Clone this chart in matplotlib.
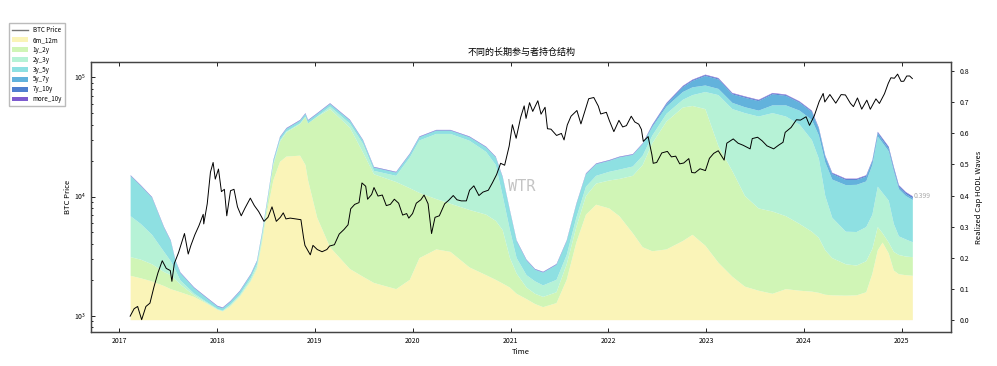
import numpy as np
import pandas as pd
import matplotlib
matplotlib.use("Agg")
import matplotlib.pyplot as plt
import matplotlib.dates as mdates
from matplotlib.lines import Line2D
from matplotlib.patches import Patch

plt.rcParams["font.family"] = ["Noto Sans CJK SC", "DejaVu Sans"]

# --- BTC price (USD) ---
price_dates = [
    "2017-02-10", "2017-02-25", "2017-03-10", "2017-03-25", "2017-04-10", "2017-04-25", "2017-05-10", "2017-05-25",
    "2017-06-10", "2017-06-25", "2017-07-10", "2017-07-16", "2017-07-25", "2017-08-10", "2017-08-25", "2017-09-01",
    "2017-09-15", "2017-09-25", "2017-10-10", "2017-10-25", "2017-11-10", "2017-11-12", "2017-11-25", "2017-12-07",
    "2017-12-17", "2017-12-25", "2018-01-06", "2018-01-17", "2018-01-28", "2018-02-06", "2018-02-20", "2018-03-05",
    "2018-03-18", "2018-04-01", "2018-04-15", "2018-05-05", "2018-05-20", "2018-06-05", "2018-06-25", "2018-07-10",
    "2018-07-25", "2018-08-10", "2018-08-25", "2018-09-05", "2018-09-15", "2018-10-01", "2018-10-20", "2018-11-10",
    "2018-11-20", "2018-11-25", "2018-12-15", "2018-12-25", "2019-01-10", "2019-01-28", "2019-02-15", "2019-02-25",
    "2019-03-15", "2019-04-02", "2019-04-20", "2019-05-05", "2019-05-15", "2019-05-30", "2019-06-15", "2019-06-26",
    "2019-07-10", "2019-07-17", "2019-08-01", "2019-08-10", "2019-08-25", "2019-09-10", "2019-09-25", "2019-10-10",
    "2019-10-25", "2019-11-10", "2019-11-25", "2019-12-10", "2019-12-18", "2020-01-01", "2020-01-15", "2020-02-01",
    "2020-02-13", "2020-02-28", "2020-03-12", "2020-03-25", "2020-04-10", "2020-04-30", "2020-05-15", "2020-06-01",
    "2020-06-15", "2020-07-01", "2020-07-20", "2020-08-01", "2020-08-17", "2020-09-05", "2020-09-20", "2020-10-10",
    "2020-10-25", "2020-11-10", "2020-11-25", "2020-12-10", "2020-12-27", "2021-01-08", "2021-01-22", "2021-02-08",
    "2021-02-21", "2021-02-28", "2021-03-13", "2021-03-25", "2021-04-13", "2021-04-25", "2021-05-10", "2021-05-19",
    "2021-06-01", "2021-06-22", "2021-07-10", "2021-07-20", "2021-08-01", "2021-08-15", "2021-09-06", "2021-09-21",
    "2021-10-05", "2021-10-20", "2021-11-08", "2021-11-25", "2021-12-04", "2021-12-25", "2022-01-05", "2022-01-22",
    "2022-02-10", "2022-02-24", "2022-03-10", "2022-03-28", "2022-04-10", "2022-04-25", "2022-05-05", "2022-05-12",
    "2022-05-30", "2022-06-13", "2022-06-18", "2022-07-01", "2022-07-20", "2022-08-10", "2022-08-25", "2022-09-10",
    "2022-09-25", "2022-10-10", "2022-10-29", "2022-11-09", "2022-11-21", "2022-12-10", "2022-12-30", "2023-01-14",
    "2023-01-30", "2023-02-16", "2023-03-10", "2023-03-20", "2023-04-13", "2023-05-01", "2023-05-20", "2023-06-15",
    "2023-06-23", "2023-07-13", "2023-07-30", "2023-08-17", "2023-09-11", "2023-09-30", "2023-10-16", "2023-10-24",
    "2023-11-15", "2023-12-05", "2023-12-20", "2024-01-10", "2024-01-23", "2024-02-10", "2024-02-28", "2024-03-14",
    "2024-03-20", "2024-04-08", "2024-04-30", "2024-05-20", "2024-06-05", "2024-06-24", "2024-07-05", "2024-07-20",
    "2024-08-05", "2024-08-24", "2024-09-06", "2024-09-27", "2024-10-10", "2024-10-29", "2024-11-12", "2024-11-22",
    "2024-12-05", "2024-12-17", "2024-12-30", "2025-01-09", "2025-01-20", "2025-01-31", "2025-02-10",
]
price_usd = [
    995, 1150, 1200, 930, 1200, 1280, 1750, 2300,
    2900, 2500, 2400, 1950, 2750, 3400, 4350, 4900,
    3300, 3900, 4800, 5700, 7100, 5900, 8700, 16000,
    19300, 14000, 17000, 11000, 11500, 6900, 11200, 11500,
    8200, 6900, 8000, 9700, 8400, 7500, 6200, 6700,
    8200, 6200, 6700, 7300, 6500, 6600, 6500, 6400,
    4500, 3900, 3250, 3900, 3600, 3450, 3600, 3850,
    3950, 4850, 5300, 5800, 7900, 8600, 8900, 13000,
    12200, 9500, 10400, 11900, 10100, 10300, 8400, 8600,
    9500, 8800, 7000, 7200, 6600, 7200, 8800, 9400,
    10300, 8700, 4900, 6700, 6900, 8700, 9300, 10200,
    9400, 9200, 9200, 11300, 12300, 10200, 10900, 11300,
    13000, 15300, 19000, 18300, 26500, 40000, 30800, 46200,
    57500, 45200, 61200, 51700, 63500, 49000, 56000, 37000,
    36700, 32500, 33800, 29800, 39800, 47100, 52600, 40600,
    51500, 66000, 67600, 57200, 49200, 50800, 43400, 35000,
    43500, 38300, 39300, 47100, 42200, 40400, 36500, 29000,
    31800, 22500, 19000, 19300, 23200, 23900, 21500, 21800,
    18800, 19100, 20800, 15900, 15800, 17100, 16500, 20900,
    23000, 24200, 20200, 28000, 30400, 28000, 26900, 25100,
    30600, 31400, 29300, 26600, 25100, 27000, 28500, 34500,
    37900, 44000, 43700, 46600, 39500, 47700, 62500, 73100,
    62000, 71600, 60600, 71500, 71000, 60300, 56700, 67000,
    54000, 64200, 53900, 65800, 60300, 72700, 88700, 98900,
    98000, 106100, 92300, 92500, 102300, 102400, 97400,
]

# --- Realized Cap HODL Waves: cumulative upper edge of each age band ---
wave_dates = [
    "2017-02-10", "2017-03-20", "2017-05-01", "2017-06-15", "2017-07-10", "2017-07-28", "2017-08-15", "2017-10-05",
    "2017-11-22", "2018-01-01", "2018-01-20", "2018-02-18", "2018-03-25", "2018-05-05", "2018-05-28", "2018-06-15",
    "2018-07-05", "2018-07-28", "2018-08-22", "2018-09-15", "2018-11-05", "2018-11-25", "2018-12-05", "2019-01-08",
    "2019-02-25", "2019-05-10", "2019-06-28", "2019-08-08", "2019-10-30", "2019-12-20", "2020-01-25", "2020-03-28",
    "2020-05-20", "2020-07-30", "2020-09-30", "2020-11-05", "2020-12-01", "2020-12-28", "2021-01-22", "2021-02-28",
    "2021-04-01", "2021-05-01", "2021-06-20", "2021-07-28", "2021-09-02", "2021-10-08", "2021-11-15", "2022-01-03",
    "2022-02-10", "2022-04-01", "2022-05-08", "2022-06-13", "2022-08-05", "2022-10-05", "2022-11-10", "2022-12-28",
    "2023-02-15", "2023-04-08", "2023-05-25", "2023-07-15", "2023-09-05", "2023-10-25", "2023-12-15", "2024-01-30",
    "2024-02-25", "2024-03-20", "2024-04-15", "2024-06-05", "2024-07-15", "2024-08-20", "2024-09-12", "2024-10-02",
    "2024-10-20", "2024-11-12", "2024-12-01", "2024-12-20", "2025-01-15", "2025-02-10",
]
edge_6m_12m = [
    0.143, 0.135, 0.125, 0.110, 0.100, 0.095, 0.090, 0.075,
    0.053, 0.033, 0.028, 0.044, 0.075, 0.125, 0.165, 0.245,
    0.350, 0.450, 0.510, 0.527, 0.530, 0.500, 0.450, 0.330,
    0.235, 0.165, 0.140, 0.120, 0.100, 0.130, 0.200, 0.228,
    0.220, 0.170, 0.145, 0.130, 0.118, 0.105, 0.085, 0.068,
    0.052, 0.042, 0.055, 0.130, 0.250, 0.340, 0.372, 0.360,
    0.335, 0.280, 0.235, 0.222, 0.228, 0.255, 0.275, 0.240,
    0.185, 0.140, 0.108, 0.095, 0.085, 0.100, 0.095, 0.092,
    0.088, 0.082, 0.080, 0.079, 0.080, 0.090, 0.150, 0.225,
    0.250, 0.215, 0.160, 0.148, 0.145, 0.143,
]
edge_1y_2y = [
    0.203, 0.195, 0.180, 0.155, 0.145, 0.130, 0.115, 0.080,
    0.055, 0.034, 0.029, 0.048, 0.078, 0.128, 0.170, 0.255,
    0.370, 0.500, 0.575, 0.605, 0.632, 0.655, 0.634, 0.655,
    0.680, 0.620, 0.540, 0.470, 0.445, 0.425, 0.410, 0.390,
    0.375, 0.355, 0.340, 0.320, 0.290, 0.200, 0.150, 0.105,
    0.085, 0.075, 0.090, 0.180, 0.300, 0.400, 0.440, 0.450,
    0.455, 0.465, 0.500, 0.570, 0.640, 0.685, 0.690, 0.680,
    0.560, 0.480, 0.400, 0.360, 0.350, 0.335, 0.310, 0.285,
    0.265, 0.225, 0.200, 0.180, 0.176, 0.190, 0.230, 0.300,
    0.280, 0.250, 0.220, 0.210, 0.205, 0.203,
]
edge_2y_3y = [
    0.335, 0.310, 0.275, 0.220, 0.190, 0.160, 0.128, 0.086,
    0.058, 0.036, 0.031, 0.050, 0.082, 0.136, 0.180, 0.266,
    0.374, 0.505, 0.580, 0.608, 0.634, 0.656, 0.634, 0.656,
    0.688, 0.633, 0.568, 0.481, 0.465, 0.524, 0.579, 0.600,
    0.600, 0.578, 0.542, 0.500, 0.400, 0.290, 0.200, 0.145,
    0.125, 0.112, 0.130, 0.210, 0.330, 0.430, 0.465, 0.478,
    0.485, 0.495, 0.530, 0.595, 0.665, 0.710, 0.725, 0.735,
    0.725, 0.680, 0.667, 0.656, 0.667, 0.656, 0.630, 0.580,
    0.520, 0.400, 0.330, 0.285, 0.284, 0.300, 0.340, 0.430,
    0.410, 0.385, 0.310, 0.270, 0.260, 0.251,
]
edge_3y_5y = [
    0.464, 0.432, 0.394, 0.297, 0.254, 0.189, 0.151, 0.103,
    0.070, 0.043, 0.038, 0.059, 0.092, 0.146, 0.189, 0.275,
    0.383, 0.513, 0.588, 0.616, 0.642, 0.664, 0.642, 0.664,
    0.696, 0.643, 0.578, 0.491, 0.475, 0.534, 0.589, 0.610,
    0.610, 0.589, 0.556, 0.524, 0.459, 0.351, 0.254, 0.192,
    0.162, 0.153, 0.178, 0.254, 0.372, 0.470, 0.502, 0.513,
    0.524, 0.532, 0.567, 0.622, 0.688, 0.735, 0.750, 0.756,
    0.745, 0.700, 0.686, 0.675, 0.692, 0.692, 0.675, 0.645,
    0.595, 0.508, 0.453, 0.435, 0.436, 0.447, 0.500, 0.592,
    0.571, 0.544, 0.479, 0.422, 0.400, 0.387,
]
edge_5y_7y = [
    0.465, 0.433, 0.395, 0.298, 0.255, 0.190, 0.152, 0.104,
    0.071, 0.044, 0.039, 0.060, 0.093, 0.147, 0.190, 0.276,
    0.384, 0.514, 0.589, 0.617, 0.643, 0.665, 0.643, 0.665,
    0.697, 0.644, 0.579, 0.492, 0.476, 0.535, 0.590, 0.611,
    0.611, 0.590, 0.557, 0.525, 0.460, 0.352, 0.255, 0.193,
    0.163, 0.154, 0.179, 0.255, 0.373, 0.471, 0.503, 0.514,
    0.525, 0.533, 0.568, 0.6255, 0.6955, 0.7505, 0.7705, 0.7865,
    0.7755, 0.7275, 0.7165, 0.7055, 0.7275, 0.7225, 0.7005, 0.6705,
    0.6155, 0.5255, 0.4705, 0.4515, 0.4515, 0.4625, 0.5115, 0.6025,
    0.5795, 0.5525, 0.4875, 0.4285, 0.4065, 0.3925,
]
edge_7y_10y = [
    0.466, 0.434, 0.396, 0.299, 0.256, 0.191, 0.153, 0.105,
    0.072, 0.045, 0.040, 0.061, 0.094, 0.148, 0.191, 0.277,
    0.385, 0.515, 0.590, 0.618, 0.644, 0.666, 0.644, 0.666,
    0.698, 0.645, 0.580, 0.493, 0.477, 0.536, 0.591, 0.612,
    0.612, 0.591, 0.558, 0.526, 0.461, 0.353, 0.256, 0.194,
    0.164, 0.155, 0.180, 0.256, 0.374, 0.472, 0.504, 0.515,
    0.526, 0.534, 0.569, 0.6285, 0.6985, 0.7535, 0.7735, 0.7895,
    0.7785, 0.7305, 0.7195, 0.7085, 0.7305, 0.7255, 0.7035, 0.6735,
    0.6185, 0.5285, 0.4735, 0.4545, 0.4545, 0.4655, 0.5145, 0.6055,
    0.5845, 0.5575, 0.4925, 0.4335, 0.4115, 0.3975,
]
edge_more_10y = [
    0.467, 0.435, 0.397, 0.300, 0.257, 0.192, 0.154, 0.106,
    0.073, 0.046, 0.041, 0.062, 0.095, 0.149, 0.192, 0.278,
    0.386, 0.516, 0.591, 0.619, 0.645, 0.667, 0.645, 0.667,
    0.699, 0.646, 0.581, 0.494, 0.478, 0.537, 0.592, 0.613,
    0.613, 0.592, 0.559, 0.527, 0.462, 0.354, 0.257, 0.195,
    0.165, 0.156, 0.181, 0.257, 0.375, 0.473, 0.505, 0.516,
    0.527, 0.535, 0.570, 0.630, 0.700, 0.755, 0.775, 0.791,
    0.780, 0.732, 0.721, 0.710, 0.732, 0.727, 0.705, 0.675,
    0.620, 0.530, 0.475, 0.456, 0.456, 0.467, 0.516, 0.607,
    0.586, 0.559, 0.494, 0.435, 0.413, 0.399,
]

wave_labels = ["6m_12m", "1y_2y", "2y_3y", "3y_5y", "5y_7y", "7y_10y", "more_10y"]
wave_colors = ["#faf4b8", "#d0f5b6", "#b6f2d6", "#8ee0e2", "#62b2dc", "#4f7fcf", "#7d5bcf"]


def main():
    p_dates = pd.to_datetime(price_dates)
    w_dates = pd.to_datetime(wave_dates)
    edges = [np.zeros(len(w_dates)), edge_6m_12m, edge_1y_2y, edge_2y_3y,
             edge_3y_5y, edge_5y_7y, edge_7y_10y, edge_more_10y]

    fig = plt.figure(figsize=(9.97, 3.66), dpi=100)
    ax = fig.add_axes([0.0913, 0.093, 0.863, 0.738])
    ax2 = ax.twinx()
    ax.set_zorder(ax2.get_zorder() + 1)
    ax.patch.set_visible(False)

    # --- HODL waves (right axis) ---
    for lo, hi, color in zip(edges[:-1], edges[1:], wave_colors):
        ax2.fill_between(w_dates, lo, hi, color=color, linewidth=0)
    ax2.text(w_dates[-1] + pd.Timedelta(days=6), edge_more_10y[-1], f"{edge_more_10y[-1]:.3f}",
             fontsize=5, color="#aaaaaa", va="center", ha="left")
    ax2.set_ylabel("Realized Cap HODL Waves", fontsize=5.5)
    ax2.tick_params(axis="y", labelsize=5, direction="out", length=2.5, width=0.6)

    # --- BTC price (left axis, log) ---
    ax.plot(p_dates, price_usd, color="black", linewidth=0.7)
    ax.set_yscale("log")
    ax.set_ylabel("BTC Price", fontsize=5.5, labelpad=1)
    ax.set_xlabel("Time", fontsize=5.5, labelpad=2)
    ax.set_title("不同的长期参与者持仓结构", fontsize=6.5, pad=5)
    ax.xaxis.set_major_locator(mdates.YearLocator())
    ax.xaxis.set_major_formatter(mdates.DateFormatter("%Y"))
    ax.tick_params(axis="both", which="both", labelsize=5, direction="in", top=True, width=0.6)
    ax.tick_params(axis="both", which="major", length=3)
    ax.tick_params(axis="both", which="minor", length=1.5)

    for a in (ax, ax2):
        for s in a.spines.values():
            s.set_color("#444444")
            s.set_linewidth(0.9)

    ax.text(0.5, 0.54, "WTR", transform=ax.transAxes, fontsize=11, color="#c4c4c4",
            ha="center", va="center", family="DejaVu Sans Mono")

    handles = [Line2D([], [], color="#777777", linewidth=1.0, label="BTC Price")]
    handles += [Patch(facecolor=c, edgecolor="none", label=l) for l, c in zip(wave_labels, wave_colors)]
    fig.legend(handles=handles, loc="upper left", bbox_to_anchor=(0.006, 0.945), fontsize=4.5,
               labelspacing=0.3, handlelength=2.5, handleheight=0.8, borderpad=0.45,
               fancybox=False, edgecolor="#bbbbbb", framealpha=1)

    fig.savefig("out.png", dpi=100)


if __name__ == "__main__":
    main()
